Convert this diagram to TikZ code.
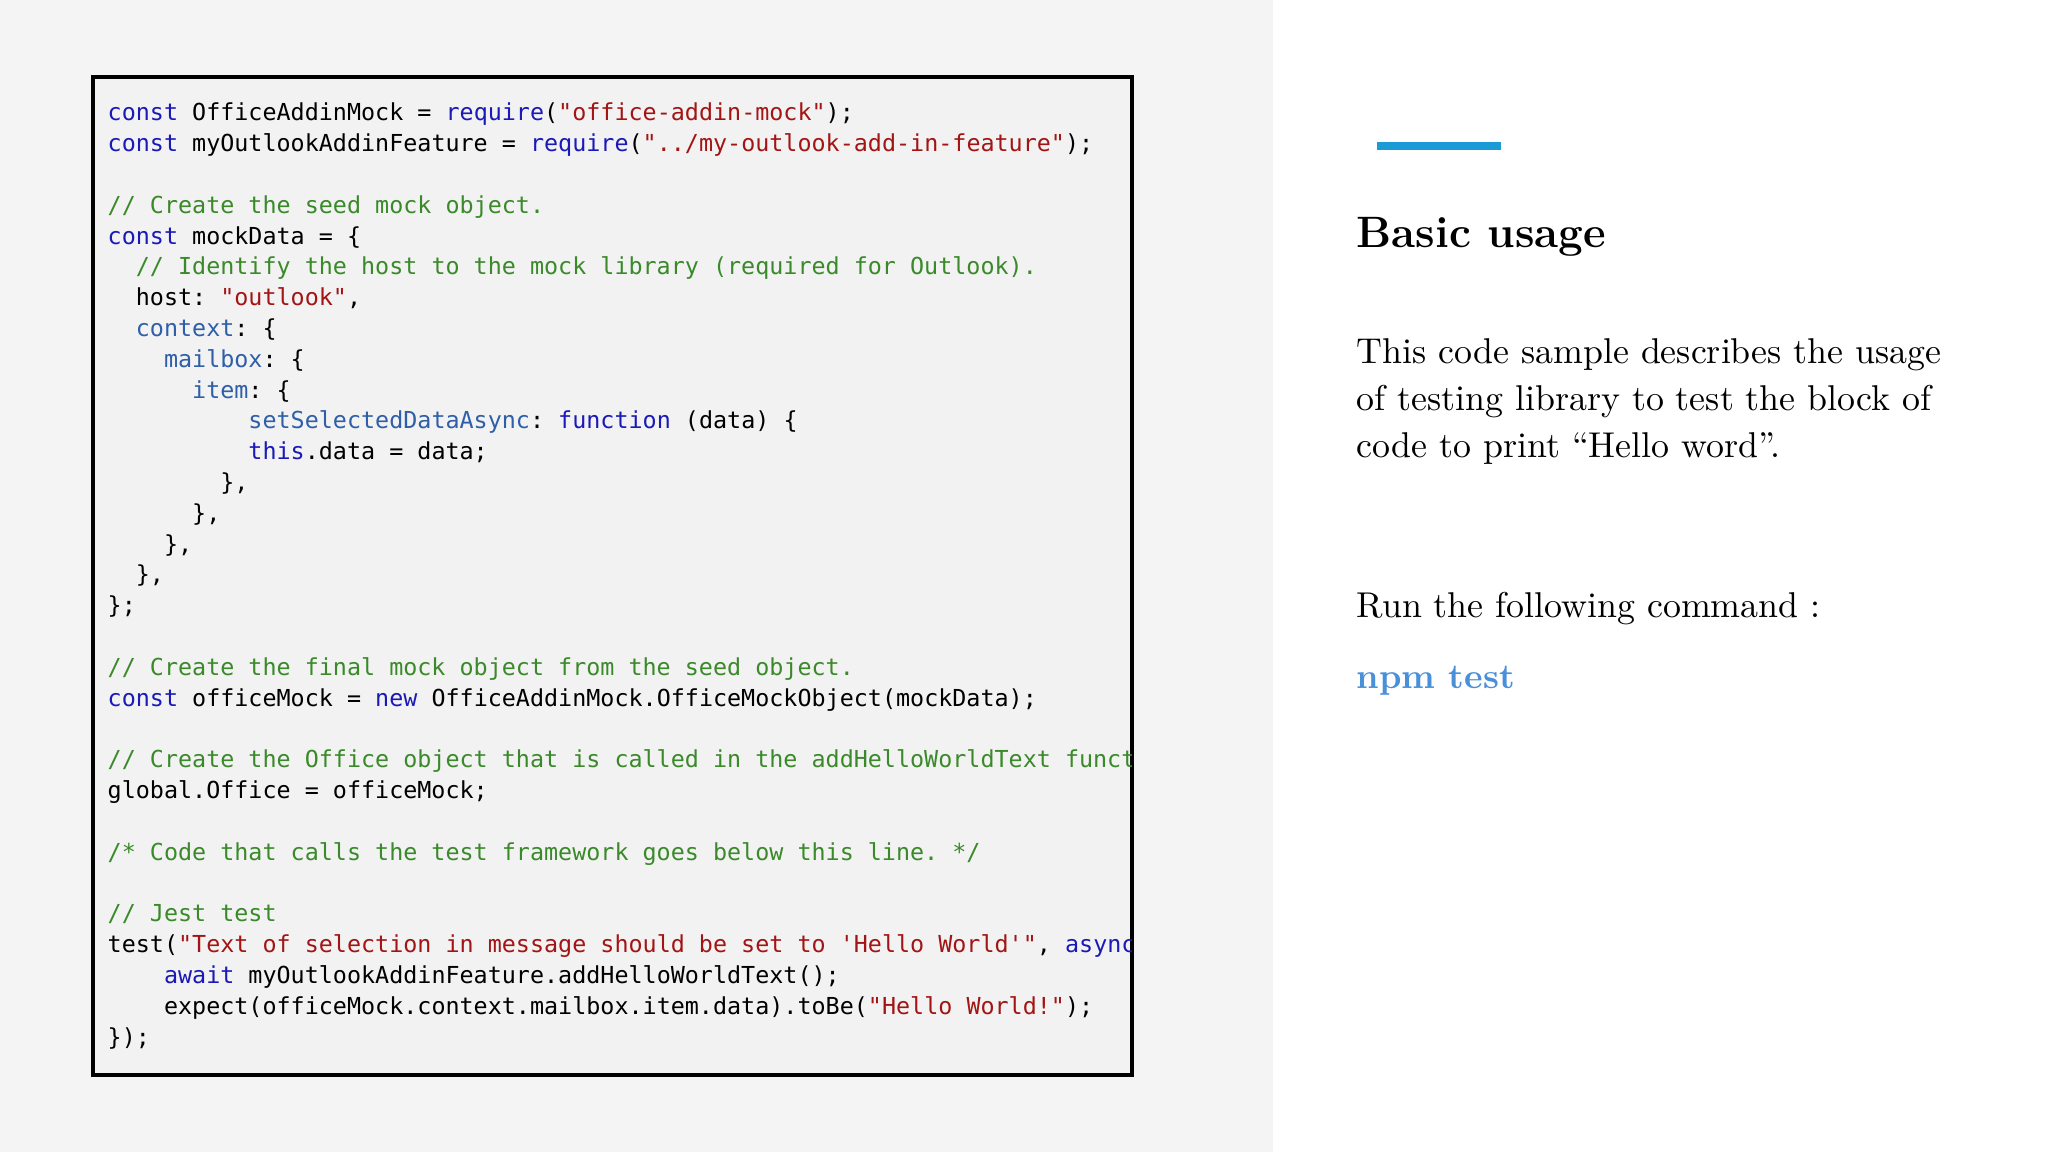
\documentclass[tikz,border=0pt]{standalone}
\usepackage{fontspec}
\setmonofont{DejaVu Sans Mono}
\usepackage{xcolor}
\definecolor{panelgray}{HTML}{F4F4F4}
\definecolor{codebg}{HTML}{F2F2F2}
\definecolor{kwblue}{HTML}{1A1AB8}
\definecolor{propblue}{HTML}{2E5FA8}
\definecolor{strred}{HTML}{A31515}
\definecolor{cmtgreen}{HTML}{3A8A2A}
\definecolor{barblue}{HTML}{1A9AD6}
\definecolor{npmblue}{HTML}{4A90D9}
\newcommand{\kw}[1]{\textcolor{kwblue}{#1}}
\newcommand{\pr}[1]{\textcolor{propblue}{#1}}
\newcommand{\st}[1]{\textcolor{strred}{#1}}
\newcommand{\cm}[1]{\textcolor{cmtgreen}{#1}}
\newcommand{\ind}[1]{\hspace*{#1\fontcharwd\font`x}}
\begin{document}
\begin{tikzpicture}[x=0.01cm,y=-0.01cm,
  codeline/.style={anchor=base west,inner sep=0pt,font=\ttfamily\fontsize{6.65}{7}\selectfont},
  bodytext/.style={anchor=base west,inner sep=0pt,font=\fontsize{10.2}{12}\selectfont}]
  % Hintergrund
  \useasboundingbox (0,0) rectangle (2048,1152);
  \fill[white] (0,0) rectangle (2048,1152);
  \fill[panelgray] (0,0) rectangle (1273,1152);
  % Codekasten
  \draw[fill=codebg,line width=1.2pt] (93,77) rectangle (1132,1075);
  \begin{scope}
    \clip (93,77) rectangle (1131,1075);
    \foreach \txt [count=\i] in {
      {\kw{const} OfficeAddinMock = \kw{require}(\st{"office-addin-mock"});},
      {\kw{const} myOutlookAddinFeature = \kw{require}(\st{"../my-outlook-add-in-feature"});},
      {},
      {\cm{// Create the seed mock object.}},
      {\kw{const} mockData = \{},
      {\ind{2}\cm{// Identify the host to the mock library (required for Outlook).}},
      {\ind{2}host: \st{"outlook"},},
      {\ind{2}\pr{context}: \{},
      {\ind{4}\pr{mailbox}: \{},
      {\ind{6}\pr{item}: \{},
      {\ind{10}\pr{setSelectedDataAsync}: \kw{function} (data) \{},
      {\ind{10}\kw{this}.data = data;},
      {\ind{8}\},},
      {\ind{6}\},},
      {\ind{4}\},},
      {\ind{2}\},},
      {\};},
      {},
      {\cm{// Create the final mock object from the seed object.}},
      {\kw{const} officeMock = \kw{new} OfficeAddinMock.OfficeMockObject(mockData);},
      {},
      {\cm{// Create the Office object that is called in the addHelloWorldText function.}},
      {global.Office = officeMock;},
      {},
      {\cm{/* Code that calls the test framework goes below this line. */}},
      {},
      {\cm{// Jest test}},
      {test(\st{"Text of selection in message should be set to 'Hello World'"}, \kw{async} () => \{},
      {\ind{4}\kw{await} myOutlookAddinFeature.addHelloWorldText();},
      {\ind{4}expect(officeMock.context.mailbox.item.data).toBe(\st{"Hello World!"});},
      {\});}}
      \node[codeline] (code\i) at (107,{113+30.8*(\i-1)+8}) {\txt};
  \end{scope}
  % rechte Seite
  \fill[barblue] (1377,142) rectangle (1501,150);
  \node[bodytext,font=\bfseries\fontsize{12.5}{15}\selectfont] (title) at (1356,248) {Basic usage};
  \node[bodytext] (para1) at (1356,364) {This code sample describes the usage};
  \node[bodytext] (para2) at (1356,411) {of testing library to test the block of};
  \node[bodytext] (para3) at (1356,458) {code to print “Hello word”.};
  \node[bodytext] (run) at (1356,617) {Run the following command :};
  \node[bodytext,font=\bfseries\fontsize{10}{12}\selectfont,text=npmblue] (npm) at (1356,688) {npm test};
\end{tikzpicture}
\end{document}
